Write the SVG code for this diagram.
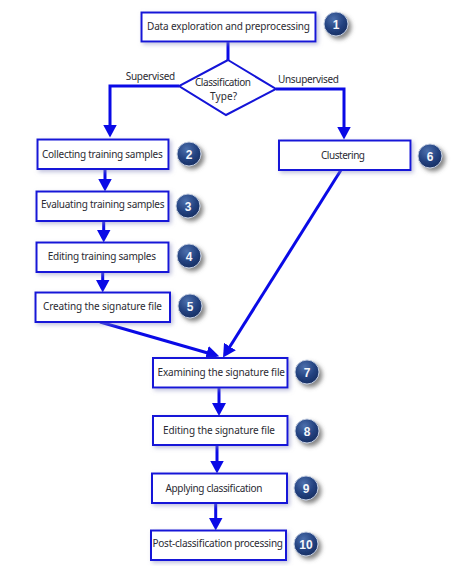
<svg xmlns="http://www.w3.org/2000/svg" width="474" height="566" viewBox="0 0 474 566">
<style>
text{font-family:"Noto Sans","DejaVu Sans",sans-serif;font-size:10px;fill:#2b2b33}
.box{fill:#fff;stroke:#1414d8;stroke-width:2;filter:url(#bs)}
.dia{fill:#fff;stroke:#1414d8;stroke-width:2}
.c{fill:none;stroke:#0a0ae6;stroke-width:3}
.c1{fill:none;stroke:#0a0ae6;stroke-width:3;marker-end:url(#ah)}
.dot{fill:url(#dg);stroke:#c3cde0;stroke-width:1;filter:url(#ds)}
.num{font-family:"Liberation Sans",sans-serif;font-size:12px;font-weight:bold;fill:#f4f6fb;text-anchor:middle}
</style>
<defs>
<marker id="ah" markerUnits="userSpaceOnUse" markerWidth="14" markerHeight="14" refX="6" refY="6.5" orient="auto" viewBox="0 0 13 13"><path d="M0 0L12 6.5L0 13Z" fill="#0a0ae6"/></marker>
<radialGradient id="dg" cx="0.4" cy="0.3" r="0.8"><stop offset="0" stop-color="#4c70ad"/><stop offset="0.55" stop-color="#23417f"/><stop offset="1" stop-color="#142a5a"/></radialGradient>
<filter id="bs" x="-10%" y="-20%" width="125%" height="160%"><feDropShadow dx="2" dy="2" stdDeviation="2" flood-color="#8a8fc0" flood-opacity="0.55"/></filter>
<filter id="ds" x="-30%" y="-30%" width="180%" height="180%"><feDropShadow dx="3" dy="3" stdDeviation="2" flood-color="#555" flood-opacity="0.7"/></filter>
</defs>
<rect width="474" height="566" fill="#fff"/>
<g id="connectors">
<path class="c" d="M228 41V60"/>
<path class="c1" d="M179 86H110V131"/>
<path class="c1" d="M276 89H344V133"/>
<path class="c1" d="M105 169V185"/>
<path class="c1" d="M103.700 221V236"/>
<path class="c1" d="M102.700 272V286"/>
<path class="c1" d="M100 322L213 354.500"/>
<path class="c1" d="M341 170L226.500 352"/>
<path class="c1" d="M219 388V409.500"/>
<path class="c1" d="M217 445V467"/>
<path class="c1" d="M215.700 503V524"/>
</g>
<g id="node1"><rect class="box" x="141.500" y="12.500" width="174" height="29"/><text x="147" y="30" textLength="163">Data exploration and preprocessing</text><circle class="dot" cx="336" cy="24" r="12"/><text class="num" x="336" y="28.500">1</text></g>
<g id="decision"><path class="dia" d="M228 60L276 89L226 115L179 86Z"/><text x="195" y="86" textLength="56">Classification</text><text x="210" y="99.500" textLength="27">Type?</text></g>
<g id="label-supervised"><text x="125.700" y="80" textLength="49.500">Supervised</text></g>
<g id="label-unsupervised"><text x="278" y="83" textLength="61">Unsupervised</text></g>
<g id="node2"><rect class="box" x="37.500" y="139.500" width="131" height="29.500"/><text x="42" y="158" textLength="120.700">Collecting training samples</text><circle class="dot" cx="189" cy="154" r="12"/><text class="num" x="189" y="158.500">2</text></g>
<g id="node3"><rect class="box" x="36.500" y="191.500" width="132" height="29.500"/><text x="41" y="207.500" textLength="123.500">Evaluating training samples</text><circle class="dot" cx="188" cy="206" r="12"/><text class="num" x="188" y="210.500">3</text></g>
<g id="node4"><rect class="box" x="36.500" y="242.500" width="132" height="29.500"/><text x="47.700" y="260" textLength="108.300">Editing training samples</text><circle class="dot" cx="189" cy="256" r="12"/><text class="num" x="189" y="260.500">4</text></g>
<g id="node5"><rect class="box" x="35.500" y="292.500" width="134.500" height="29.500"/><text x="43" y="310" textLength="119">Creating the signature file</text><circle class="dot" cx="190" cy="306" r="12"/><text class="num" x="190" y="310.500">5</text></g>
<g id="node6"><rect class="box" x="279" y="140.500" width="131.500" height="29.500"/><text x="321" y="159" textLength="44">Clustering</text><circle class="dot" cx="430" cy="156" r="12"/><text class="num" x="430" y="160.500">6</text></g>
<g id="node7"><rect class="box" x="153" y="358" width="134.500" height="29.500"/><text x="157.500" y="376" textLength="127.500">Examining the signature file</text><circle class="dot" cx="307" cy="372" r="12"/><text class="num" x="307" y="376.500">7</text></g>
<g id="node8"><rect class="box" x="153" y="416" width="134.500" height="29"/><text x="163" y="434" textLength="112">Editing the signature file</text><circle class="dot" cx="307" cy="431" r="12"/><text class="num" x="307" y="435.500">8</text></g>
<g id="node9"><rect class="box" x="152" y="473.500" width="135" height="29.500"/><text x="165.500" y="491.500" textLength="97">Applying classification</text><circle class="dot" cx="306" cy="488" r="12"/><text class="num" x="306" y="492.500">9</text></g>
<g id="node10"><rect class="box" x="151" y="530.500" width="135" height="29.500"/><text x="152.500" y="547" textLength="130.500">Post-classification processing</text><circle class="dot" cx="306" cy="544" r="12"/><text class="num" x="306" y="548.500">10</text></g>
</svg>
